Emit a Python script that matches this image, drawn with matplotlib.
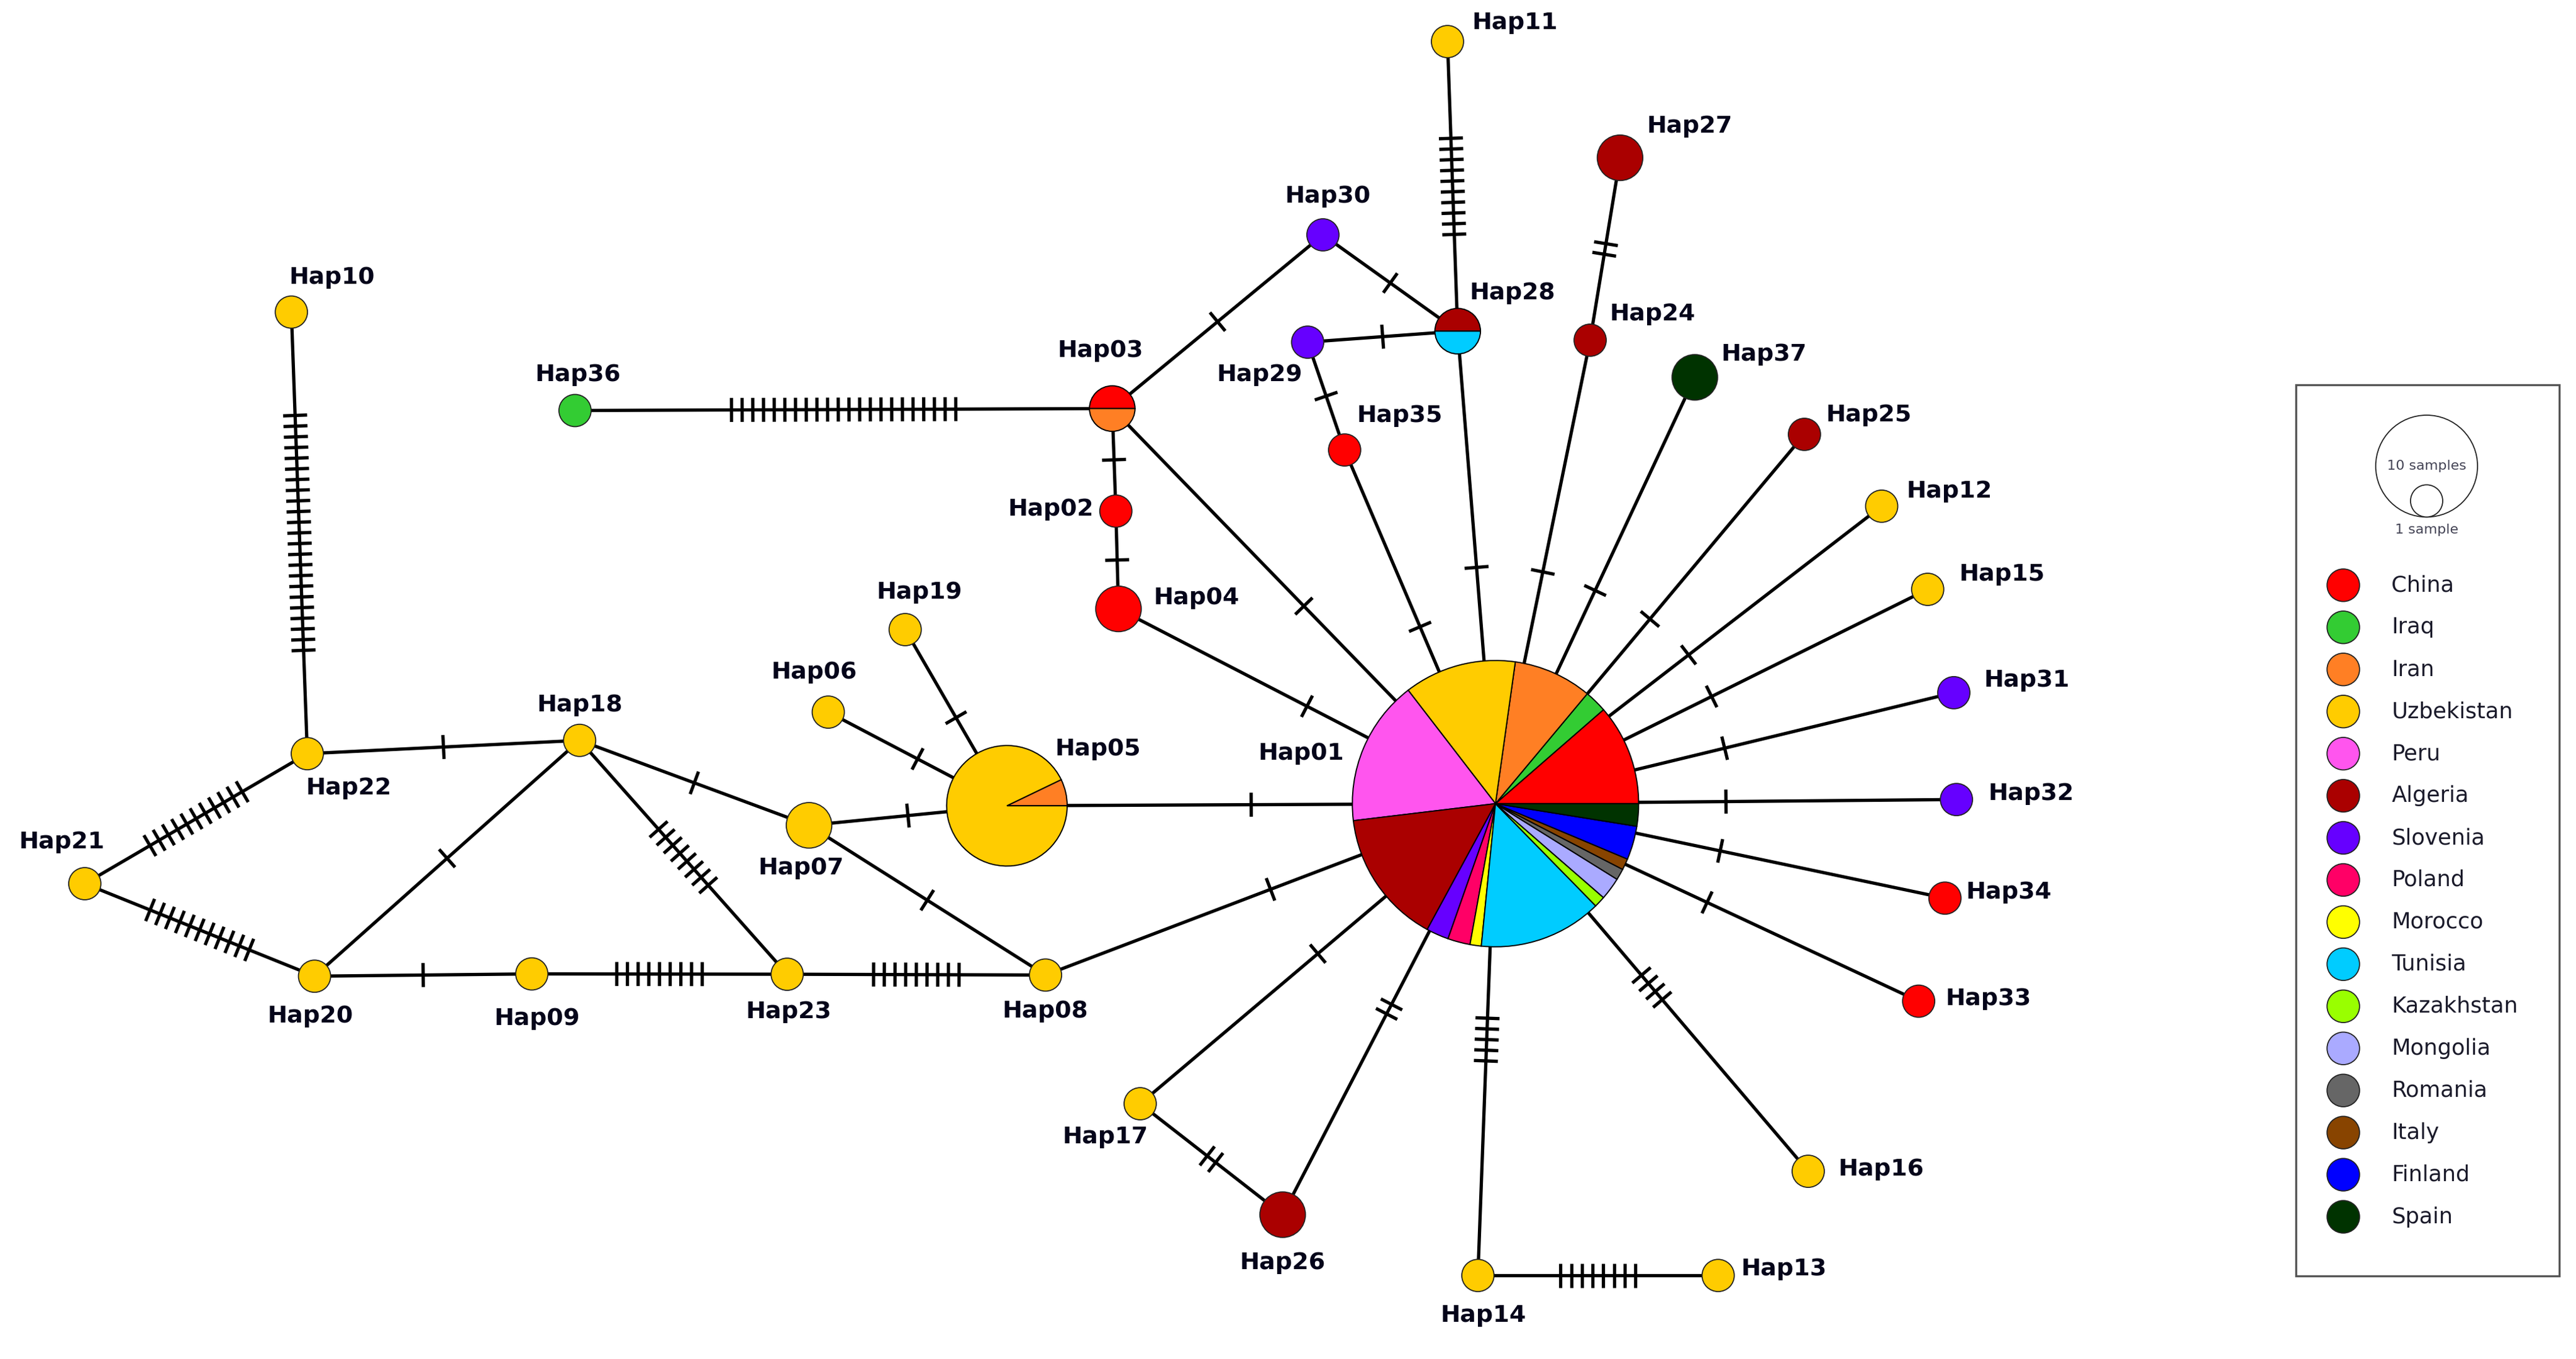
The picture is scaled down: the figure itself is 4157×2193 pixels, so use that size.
import numpy as np
import matplotlib.pyplot as plt
from matplotlib.patches import Circle, Wedge, Rectangle
from matplotlib.collections import LineCollection

# countries in legend order, with their colours
countries = ['China', 'Iraq', 'Iran', 'Uzbekistan', 'Peru', 'Algeria', 'Slovenia',
             'Poland', 'Morocco', 'Tunisia', 'Kazakhstan', 'Mongolia', 'Romania',
             'Italy', 'Finland', 'Spain']
colors = ['#FF0000', '#33CC33', '#FF7F24', '#FFCC00', '#FF55EE', '#AA0000', '#6600FF',
          '#FF0066', '#FFFF00', '#00CCFF', '#99FF00', '#AAAAFF', '#666666',
          '#884400', '#0000FF', '#003300']

# haplotype layout (network positions, image units, y grows downward)
hap_names = ['Hap01', 'Hap02', 'Hap03', 'Hap04', 'Hap05', 'Hap06', 'Hap07', 'Hap08',
             'Hap09', 'Hap10', 'Hap11', 'Hap12', 'Hap13', 'Hap14', 'Hap15', 'Hap16',
             'Hap17', 'Hap18', 'Hap19', 'Hap20', 'Hap21', 'Hap22', 'Hap23', 'Hap24',
             'Hap25', 'Hap26', 'Hap27', 'Hap28', 'Hap29', 'Hap30', 'Hap31', 'Hap32',
             'Hap33', 'Hap34', 'Hap35', 'Hap36', 'Hap37']
hap_x = [910.0, 679.0, 676.8, 680.6, 612.7, 504.0, 492.3, 636.2,
         323.6, 177.3, 880.8, 1145.0, 1045.5, 899.3, 1173.0, 1100.3,
         693.8, 352.7, 550.8, 191.4, 51.6, 187.0, 479.0, 967.6,
         1098.0, 780.5, 985.8, 887.0, 795.7, 805.0, 1188.9, 1190.5,
         1167.5, 1183.5, 818.2, 349.9, 1031.3]
hap_y = [489.0, 311.0, 248.6, 370.5, 490.3, 433.3, 502.2, 593.3,
         592.6, 189.9, 25.3, 308.0, 776.1, 776.1, 358.6, 712.7,
         671.6, 450.5, 383.1, 594.0, 537.7, 458.6, 592.8, 207.0,
         264.3, 739.1, 96.0, 201.5, 208.2, 142.9, 421.5, 486.5,
         609.2, 546.5, 273.8, 249.8, 229.6]

# samples per country in each haplotype
hap_counts = {
    'Hap01': {'China': 9, 'Iraq': 2, 'Iran': 7, 'Uzbekistan': 10, 'Peru': 13,
              'Algeria': 12, 'Slovenia': 2, 'Poland': 2, 'Morocco': 1, 'Tunisia': 11,
              'Kazakhstan': 1, 'Mongolia': 2, 'Romania': 1, 'Italy': 1,
              'Finland': 3, 'Spain': 2},
    'Hap02': {'China': 1}, 'Hap03': {'China': 1, 'Iran': 1}, 'Hap04': {'China': 2},
    'Hap05': {'Iran': 1, 'Uzbekistan': 13}, 'Hap06': {'Uzbekistan': 1},
    'Hap07': {'Uzbekistan': 2}, 'Hap08': {'Uzbekistan': 1}, 'Hap09': {'Uzbekistan': 1},
    'Hap10': {'Uzbekistan': 1}, 'Hap11': {'Uzbekistan': 1}, 'Hap12': {'Uzbekistan': 1},
    'Hap13': {'Uzbekistan': 1}, 'Hap14': {'Uzbekistan': 1}, 'Hap15': {'Uzbekistan': 1},
    'Hap16': {'Uzbekistan': 1}, 'Hap17': {'Uzbekistan': 1}, 'Hap18': {'Uzbekistan': 1},
    'Hap19': {'Uzbekistan': 1}, 'Hap20': {'Uzbekistan': 1}, 'Hap21': {'Uzbekistan': 1},
    'Hap22': {'Uzbekistan': 1}, 'Hap23': {'Uzbekistan': 1}, 'Hap24': {'Algeria': 1},
    'Hap25': {'Algeria': 1}, 'Hap26': {'Algeria': 2}, 'Hap27': {'Algeria': 2},
    'Hap28': {'Algeria': 1, 'Tunisia': 1}, 'Hap29': {'Slovenia': 1},
    'Hap30': {'Slovenia': 1}, 'Hap31': {'Slovenia': 1}, 'Hap32': {'Slovenia': 1},
    'Hap33': {'China': 1}, 'Hap34': {'China': 1}, 'Hap35': {'China': 1},
    'Hap36': {'Iraq': 1}, 'Hap37': {'Spain': 2},
}

# links and number of mutation steps on each
edges = [
    ('Hap01', 'Hap05', 1), ('Hap01', 'Hap04', 1), ('Hap01', 'Hap03', 1),
    ('Hap01', 'Hap35', 1), ('Hap01', 'Hap28', 1), ('Hap01', 'Hap24', 1),
    ('Hap01', 'Hap37', 1), ('Hap01', 'Hap25', 1), ('Hap01', 'Hap12', 1),
    ('Hap01', 'Hap15', 1), ('Hap01', 'Hap31', 1), ('Hap01', 'Hap32', 1),
    ('Hap01', 'Hap34', 1), ('Hap01', 'Hap33', 1), ('Hap01', 'Hap16', 4),
    ('Hap01', 'Hap14', 5), ('Hap01', 'Hap26', 2), ('Hap01', 'Hap17', 1),
    ('Hap01', 'Hap08', 1),
    ('Hap03', 'Hap36', 22), ('Hap03', 'Hap30', 1), ('Hap03', 'Hap02', 1),
    ('Hap02', 'Hap04', 1), ('Hap30', 'Hap28', 1), ('Hap29', 'Hap28', 1),
    ('Hap29', 'Hap35', 1), ('Hap28', 'Hap11', 10), ('Hap24', 'Hap27', 2),
    ('Hap17', 'Hap26', 2), ('Hap14', 'Hap13', 8),
    ('Hap05', 'Hap19', 1), ('Hap05', 'Hap06', 1), ('Hap05', 'Hap07', 1),
    ('Hap07', 'Hap18', 1), ('Hap07', 'Hap08', 1), ('Hap08', 'Hap23', 9),
    ('Hap23', 'Hap09', 9), ('Hap23', 'Hap18', 8), ('Hap09', 'Hap20', 1),
    ('Hap20', 'Hap18', 1), ('Hap20', 'Hap21', 11), ('Hap21', 'Hap22', 11),
    ('Hap22', 'Hap18', 1), ('Hap22', 'Hap10', 23),
]

# where each name is written
label_pos = {
    'Hap01': (791.6, 458.5), 'Hap02': (639.3, 309.9), 'Hap03': (669.6, 213.6),
    'Hap04': (728.1, 364.0), 'Hap05': (668.0, 456.0), 'Hap06': (495.5, 409.0),
    'Hap07': (487.3, 528.2), 'Hap08': (636.2, 615.4), 'Hap09': (327.0, 620.0),
    'Hap10': (202.0, 169.0), 'Hap11': (921.8, 14.1), 'Hap12': (1186.2, 299.0),
    'Hap13': (1085.3, 772.2), 'Hap14': (902.5, 800.4), 'Hap15': (1218.1, 349.5),
    'Hap16': (1144.7, 711.6), 'Hap17': (672.7, 692.1), 'Hap18': (353.0, 429.0),
    'Hap19': (559.3, 360.4), 'Hap20': (189.0, 618.5), 'Hap21': (37.5, 512.5),
    'Hap22': (212.0, 479.5), 'Hap23': (479.8, 615.8), 'Hap24': (1005.4, 191.2),
    'Hap25': (1137.3, 252.5), 'Hap26': (780.5, 768.6), 'Hap27': (1028.2, 76.8),
    'Hap28': (920.5, 178.5), 'Hap29': (766.6, 228.0), 'Hap30': (808.0, 119.4),
    'Hap31': (1233.3, 414.1), 'Hap32': (1236.0, 483.2), 'Hap33': (1210.0, 607.7),
    'Hap34': (1222.3, 542.8), 'Hap35': (851.6, 253.2), 'Hap36': (351.8, 228.0),
    'Hap37': (1073.4, 215.5),
}

W, H = 4157 / 2.652, 2193 / 2.652
R1 = 9.8          # radius of a one-sample circle
TICK_HALF = 7.3
TICK_GAP = 6.5
LW = 3.8

pos = {n: (x, y) for n, x, y in zip(hap_names, hap_x, hap_y)}
col = dict(zip(countries, colors))

fig = plt.figure(figsize=(41.57, 21.93), dpi=100)
ax = fig.add_axes([0, 0, 1, 1])
ax.set_xlim(0, W)
ax.set_ylim(H, 0)
ax.set_aspect('equal')
ax.axis('off')

# links and mutation hatches
ticks = []
for a, b, n in edges:
    (x0, y0), (x1, y1) = pos[a], pos[b]
    ax.plot([x0, x1], [y0, y1], color='black', lw=LW, zorder=1,
            solid_capstyle='butt')
    d = np.array([x1 - x0, y1 - y0])
    d = d / np.hypot(*d)
    p = np.array([-d[1], d[0]])
    mid = np.array([(x0 + x1) / 2, (y0 + y1) / 2])
    for k in range(n):
        c = mid + d * (k - (n - 1) / 2) * TICK_GAP
        ticks.append([c - p * TICK_HALF, c + p * TICK_HALF])
ax.add_collection(LineCollection(ticks, colors='black', linewidths=LW, zorder=2))

# haplotype circles / pies
for name in hap_names:
    x, y = pos[name]
    comp = hap_counts[name]
    total = sum(comp.values())
    r = R1 * np.sqrt(total)
    parts = [(c, comp[c]) for c in countries if c in comp]
    if len(parts) == 1:
        ax.add_patch(Circle((x, y), r, facecolor=col[parts[0][0]],
                            edgecolor='#222222', lw=1.3, zorder=3))
    else:
        start = 0.0
        for c, n in parts:
            span = 360.0 * n / total
            # y axis is inverted, so negate angles to go counter-clockwise
            ax.add_patch(Wedge((x, y), r, -(start + span), -start,
                               facecolor=col[c], edgecolor='black', lw=1.4,
                               zorder=3))
            start += span
    lx, ly = label_pos[name]
    ax.text(lx, ly, name, fontsize=27.5, fontweight='bold', color='#05051a',
            ha='center', va='center', zorder=4)

# legend
ax.add_patch(Rectangle((1397.1, 234.2), 160.2, 542.2, facecolor='white',
                       edgecolor='#555555', lw=2.4, zorder=5))
ax.add_patch(Circle((1476.6, 314.6 - R1 * np.sqrt(10)), R1 * np.sqrt(10),
                    facecolor='white', edgecolor='#222222', lw=1.3, zorder=6))
ax.add_patch(Circle((1476.6, 314.6 - R1), R1, facecolor='white',
                    edgecolor='#222222', lw=1.3, zorder=6))
ax.text(1476.6, 283.5, '10 samples', fontsize=16, color='#444455',
        ha='center', va='center', zorder=7)
ax.text(1476.6, 322.5, '1 sample', fontsize=16, color='#444455',
        ha='center', va='center', zorder=7)
for i, (c, fc) in enumerate(zip(countries, colors)):
    yy = 356.1 + i * 25.62
    ax.add_patch(Circle((1425.9, yy), 9.9, facecolor=fc, edgecolor='#222222',
                        lw=1.3, zorder=6))
    ax.text(1455.3, yy, c, fontsize=25.5, color='#1a1a2a', ha='left',
            va='center', zorder=7)

fig.savefig('out.png', dpi=100, facecolor='white')
